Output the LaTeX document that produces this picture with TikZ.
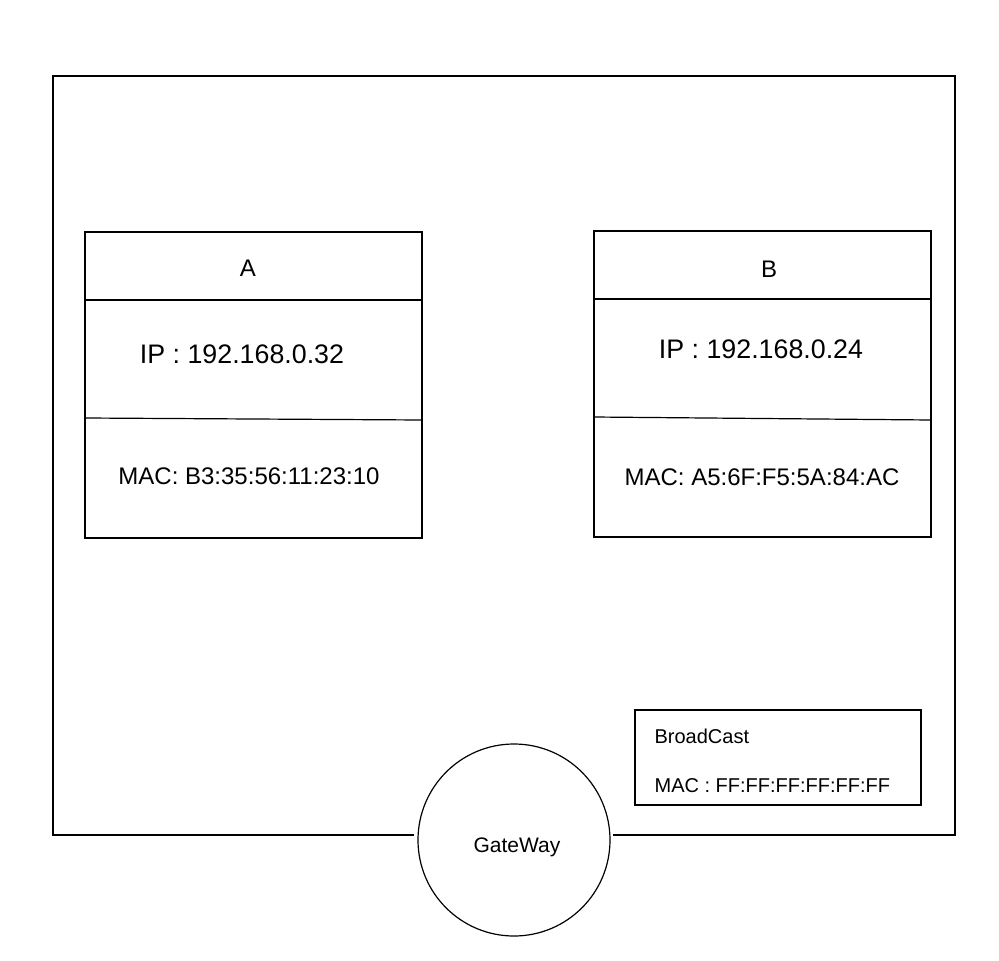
\documentclass[tikz,border=0pt]{standalone}
\usepackage{fontspec}
\setmainfont{Liberation Sans}
\usetikzlibrary{positioning}

\begin{document}
\begin{tikzpicture}[x=1pt,y=-1pt,line width=1.2pt,
    hostname/.style={font=\fontsize{24}{28}\selectfont},
    iptext/.style={font=\fontsize{26.8}{31}\selectfont},
    mactext/.style={font=\fontsize{24}{28}\selectfont},
    smalltext/.style={font=\fontsize{20}{24}\selectfont}]
\useasboundingbox (0,0) rectangle (999,961);

        % Khung mạng LAN
        \coordinate (lgap) at (414,835);
        \coordinate (rgap) at (613,835);
        \draw (lgap) -- (53,835) -- (53,76) -- (955,76) -- (955,835) -- (rgap);

        % Gateway
        \node[draw,circle,minimum size=192pt,inner sep=0pt] (gw) at (514,840) {};
        \node[font=\fontsize{21}{25}\selectfont,anchor=base,inner sep=0pt] (gwname) at (517,852) {GateWay};

        % Máy A
        \draw (85,232) rectangle (422,538);
        \draw (85,300) -- (422,300);
        \draw (85,418) -- (422,420);
        \node[hostname] (nameA) at (248,268) {A};
        \node[iptext] (ipA) at (242,354) {IP : 192.168.0.32};
        \node[mactext] (macA) at (249,476) {MAC: B3:35:56:11:23:10};

        % Máy B
        \draw (594,231) rectangle (931,537);
        \draw (594,299) -- (931,299);
        \draw (594,417) -- (931,420);
        \node[hostname] (nameB) at (769,269) {B};
        \node[iptext] (ipB) at (761,349) {IP : 192.168.0.24};
        \node[mactext] (macB) at (762,477) {MAC: A5:6F:F5:5A:84:AC};

        % Địa chỉ broadcast
        \draw (635,710) rectangle (921,805);
        \node[smalltext,anchor=base west,inner sep=0pt] (bcname) at (654,743) {BroadCast};
        \node[smalltext,anchor=base west,inner sep=0pt] (bcmac) at (654,792) {MAC : FF:FF:FF:FF:FF:FF};

\end{tikzpicture}
\end{document}
